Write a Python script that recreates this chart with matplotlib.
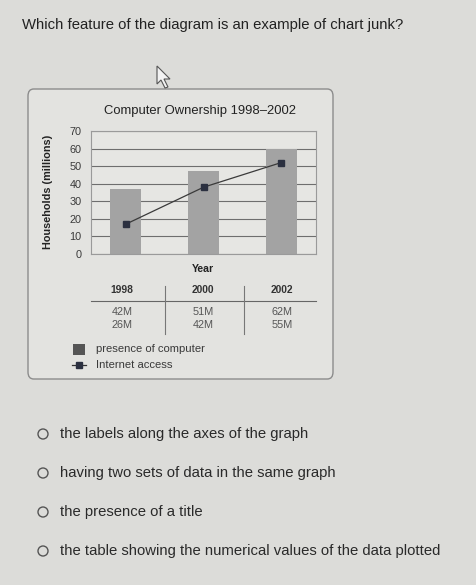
import matplotlib
matplotlib.use("Agg")
import matplotlib.pyplot as plt
from matplotlib.patches import FancyBboxPatch, Rectangle, Ellipse, Polygon
from matplotlib.lines import Line2D

plt.rcParams['font.family'] = ['Liberation Sans', 'DejaVu Sans']

# data
years = ['1998', '2000', '2002']
computer = [37, 47, 60]        # bar heights as drawn
internet = [17, 38, 52]        # line points as drawn
table_computer = ['42M', '51M', '62M']
table_internet = ['26M', '42M', '55M']
yticks = [0, 10, 20, 30, 40, 50, 60, 70]
answers = [
    "the labels along the axes of the graph",
    "having two sets of data in the same graph",
    "the presence of a title",
    "the table showing the numerical values of the data plotted",
]

W, H = 476, 585
def fx(x):
    return x / W
def fy(y):
    return 1 - y / H

fig = plt.figure(figsize=(W / 100, H / 100), dpi=100, facecolor='#dcdcd9')

# question
fig.text(fx(22), fy(25), "Which feature of the diagram is an example of chart junk?",
         fontsize=10.7, color='#222222', va='center', ha='left')

# mouse pointer
ptr = [(157, 66), (157, 84), (161, 80), (165, 88), (168, 87), (164, 79), (170, 79)]
fig.add_artist(Polygon([(fx(a), fy(b)) for a, b in ptr], closed=True,
                       facecolor='#f2f2f2', edgecolor='#555555', lw=0.8,
                       transform=fig.transFigure))

# chart frame (behind the axes)
frame = FancyBboxPatch((fx(28), fy(379)), fx(333) - fx(28), fy(89) - fy(379),
                       boxstyle="round,pad=0,rounding_size=0.012",
                       facecolor='#e3e3e0', edgecolor='#8c8c8c', lw=1.0,
                       transform=fig.transFigure, zorder=-5)
fig.add_artist(frame)

fig.text(fx(200), fy(111), "Computer Ownership 1998\u20132002", fontsize=9.4,
         color='#222222', ha='center', va='center')

ax = fig.add_axes([fx(91), fy(254), fx(316) - fx(91), fy(131) - fy(254)])
ax.set_zorder(2)
ax.set_facecolor('#e6e6e3')
x = range(len(years))
ax.bar(x, computer, width=0.4, color='#a3a3a3', zorder=2)
ax.plot(x, internet, color='#3a3a3a', lw=0.9, marker='s', markersize=5,
        markerfacecolor='#2b3040', markeredgecolor='#2b3040', zorder=3)
ax.set_xlim(-0.45, 2.45)
ax.set_ylim(0, 70)
ax.set_yticks(yticks)
ax.set_xticks([])
ax.tick_params(axis='y', length=0, labelsize=7.8, labelcolor='#3a3a3a', pad=7)
ax.grid(axis='y', color='#6e6e6e', lw=0.8, zorder=1)
for s in ax.spines.values():
    s.set_color('#9a9a9a')
    s.set_linewidth(0.8)
fig.text(fx(48), fy(192), "Households (millions)", rotation=90, fontsize=7.8,
         fontweight='bold', color='#222222', ha='center', va='center')

# table below the chart
fig.text(fx(203), fy(269), "Year", fontsize=7.6, fontweight='bold',
         color='#222222', ha='center', va='center')
col_x = [122, 203, 282]
for cx, yr, c, i in zip(col_x, years, table_computer, table_internet):
    fig.text(fx(cx), fy(290), yr, fontsize=7.4, fontweight='bold', color='#333333',
             ha='center', va='center')
    fig.text(fx(cx), fy(312), c, fontsize=7.8, color='#555555', ha='center', va='center')
    fig.text(fx(cx), fy(325), i, fontsize=7.8, color='#555555', ha='center', va='center')
fig.add_artist(Line2D([fx(91), fx(316)], [fy(301), fy(301)], color='#666666', lw=0.8))
for vx in [165, 244]:
    fig.add_artist(Line2D([fx(vx), fx(vx)], [fy(286), fy(334)], color='#777777', lw=0.8))

# legend
fig.add_artist(Rectangle((fx(73), fy(355)), fx(85) - fx(73), fy(344) - fy(355),
                         facecolor='#555555', edgecolor='none', transform=fig.transFigure))
fig.add_artist(Line2D([fx(72), fx(79), fx(86)], [fy(365)] * 3, color='#333333', lw=0.9,
                      marker='s', markevery=[1], markersize=5, markerfacecolor='#2b3040',
                      markeredgecolor='#2b3040'))
fig.text(fx(96), fy(349), "presence of computer", fontsize=8.1,
         color='#3a3a3a', ha='left', va='center')
fig.text(fx(96), fy(365), "Internet access", fontsize=8.1,
         color='#3a3a3a', ha='left', va='center')

# answer options
for yy, txt in zip([434, 473, 512, 551], answers):
    fig.add_artist(Ellipse((fx(43), fy(yy)), 10 / W, 10 / H, facecolor='none',
                           edgecolor='#555555', lw=1.0, transform=fig.transFigure))
    fig.text(fx(60), fy(yy), txt, fontsize=10.7, color='#2a2a2a', ha='left', va='center')

fig.savefig("out.png", dpi=100, facecolor=fig.get_facecolor())
